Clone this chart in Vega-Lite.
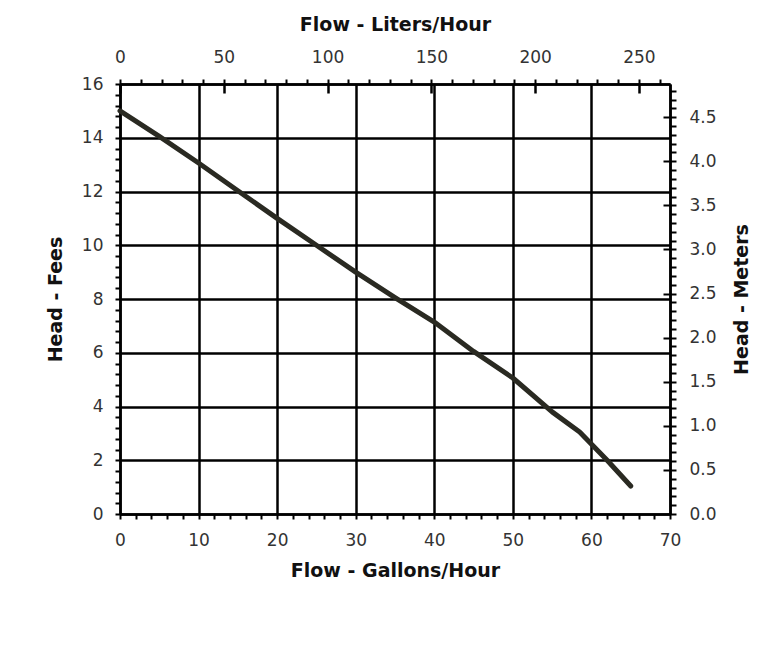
{
  "$schema": "https://vega.github.io/schema/vega-lite/v6.json",
  "width": 550,
  "height": 430,
  "autosize": "none",
  "padding": {"left": 120, "top": 84, "right": 104, "bottom": 136},
  "background": "white",
  "config": {
    "view": {"stroke": null},
    "axis": {
      "labelFont": "DejaVu Sans",
      "titleFont": "DejaVu Sans",
      "labelFontSize": 17,
      "titleFontSize": 19,
      "titleFontWeight": "bold",
      "labelColor": "#333333",
      "titleColor": "#111111",
      "domainColor": "#000000",
      "domainWidth": 2.5,
      "tickColor": "#000000",
      "tickWidth": 2,
      "gridColor": "#000000",
      "gridWidth": 2.5,
      "labelOverlap": false,
      "labelFlush": false
    }
  },
  "data": {
    "values": [
      {"gal": 0, "ft": 15.0, "liters": 0, "m": 4.572},
      {"gal": 5, "ft": 14.05, "liters": 18.93, "m": 4.282},
      {"gal": 10, "ft": 13.06, "liters": 37.85, "m": 3.981},
      {"gal": 15, "ft": 12.03, "liters": 56.78, "m": 3.667},
      {"gal": 20, "ft": 11.0, "liters": 75.71, "m": 3.353},
      {"gal": 25, "ft": 10.0, "liters": 94.64, "m": 3.048},
      {"gal": 30, "ft": 9.0, "liters": 113.56, "m": 2.743},
      {"gal": 35, "ft": 8.05, "liters": 132.49, "m": 2.454},
      {"gal": 40, "ft": 7.14, "liters": 151.42, "m": 2.176},
      {"gal": 45, "ft": 6.05, "liters": 170.34, "m": 1.844},
      {"gal": 50, "ft": 5.06, "liters": 189.27, "m": 1.542},
      {"gal": 55, "ft": 3.8, "liters": 208.2, "m": 1.158},
      {"gal": 58.5, "ft": 3.05, "liters": 221.45, "m": 0.93},
      {"gal": 62, "ft": 2.0, "liters": 234.7, "m": 0.61},
      {"gal": 65, "ft": 1.04, "liters": 246.05, "m": 0.317}
    ]
  },
  "layer": [
    {
      "layer": [
        {
          "mark": {"type": "line", "color": "#2a2a22", "strokeWidth": 5, "strokeCap": "round", "strokeJoin": "round"},
          "encoding": {
            "x": {
              "field": "gal", "type": "quantitative",
              "scale": {"domain": [0, 70], "nice": false, "zero": true},
              "axis": {
                "orient": "bottom",
                "title": "Flow - Gallons/Hour",
                "values": [0,2,4,6,8,10,12,14,16,18,20,22,24,26,28,30,32,34,36,38,40,42,44,46,48,50,52,54,56,58,60,62,64,66,68,70],
                "labelExpr": "datum.value % 10 === 0 ? datum.label : ''",
                "tickSize": 5,
                "labelPadding": 13,
                "titlePadding": 13,
                "grid": true,
                "gridOpacity": {"condition": {"test": "datum.value % 10 === 0", "value": 1}, "value": 0}
              }
            },
            "y": {
              "field": "ft", "type": "quantitative",
              "scale": {"domain": [0, 16], "nice": false, "zero": true},
              "axis": {
                "orient": "left",
                "title": "Head - Fees",
                "format": ".0f",
                "values": [0,0.4,0.8,1.2,1.6,2,2.4,2.8,3.2,3.6,4,4.4,4.8,5.2,5.6,6,6.4,6.8,7.2,7.6,8,8.4,8.8,9.2,9.6,10,10.4,10.8,11.2,11.6,12,12.4,12.8,13.2,13.6,14,14.4,14.8,15.2,15.6,16],
                "labelExpr": "round(datum.value * 10) % 20 === 0 ? datum.label : ''",
                "tickSize": 5,
                "labelPadding": 12,
                "titlePadding": 16,
                "grid": true,
                "gridOpacity": {"condition": {"test": "round(datum.value * 10) % 20 === 0", "value": 1}, "value": 0}
              }
            }
          }
        }
      ]
    },
    {
      "layer": [
        {
          "mark": {"type": "line", "opacity": 0},
          "encoding": {
            "x": {
              "field": "liters", "type": "quantitative",
              "scale": {"domain": [0, 264.98], "nice": false, "zero": true},
              "axis": {
                "orient": "top",
                "title": "Flow - Liters/Hour",
                "values": [0,10,20,30,40,50,60,70,80,90,100,110,120,130,140,150,160,170,180,190,200,210,220,230,240,250,260],
                "labelExpr": "datum.value % 50 === 0 ? datum.label : ''",
                "tickSize": 5,
                "labelPadding": 13,
                "titlePadding": 14,
                "grid": false
              }
            },
            "y": {
              "field": "m", "type": "quantitative",
              "scale": {"domain": [0, 4.8768], "nice": false, "zero": true},
              "axis": {
                "orient": "right",
                "title": "Head - Meters",
                "titleAngle": 270,
                "titleBaseline": "top",
                "values": [0,0.1,0.2,0.3,0.4,0.5,0.6,0.7,0.8,0.9,1,1.1,1.2,1.3,1.4,1.5,1.6,1.7,1.8,1.9,2,2.1,2.2,2.3,2.4,2.5,2.6,2.7,2.8,2.9,3,3.1,3.2,3.3,3.4,3.5,3.6,3.7,3.8,3.9,4,4.1,4.2,4.3,4.4,4.5,4.6,4.7,4.8],
                "format": ".1f",
                "labelExpr": "round(datum.value * 10) % 5 === 0 ? datum.label : ''",
                "tickSize": 6,
                "labelPadding": 13,
                "titlePadding": 16,
                "grid": false
              }
            }
          }
        },
        {
          "mark": {"type": "line", "opacity": 0},
          "encoding": {
            "x": {
              "field": "liters", "type": "quantitative",
              "axis": {
                "orient": "top",
                "title": null,
                "values": [0,50,100,150,200,250],
                "labels": false,
                "domain": false,
                "tickSize": -9,
                "tickWidth": 2.5,
                "grid": false
              }
            },
            "y": {
              "field": "m", "type": "quantitative",
              "axis": {
                "orient": "right",
                "title": null,
                "values": [0.5,1,1.5,2,2.5,3,3.5,4,4.5],
                "labels": false,
                "domain": false,
                "tickSize": -7,
                "tickWidth": 2,
                "grid": false
              }
            }
          }
        }
      ],
      "resolve": {"axis": {"x": "independent", "y": "independent"}}
    }
  ],
  "resolve": {"scale": {"x": "independent", "y": "independent"}}
}
